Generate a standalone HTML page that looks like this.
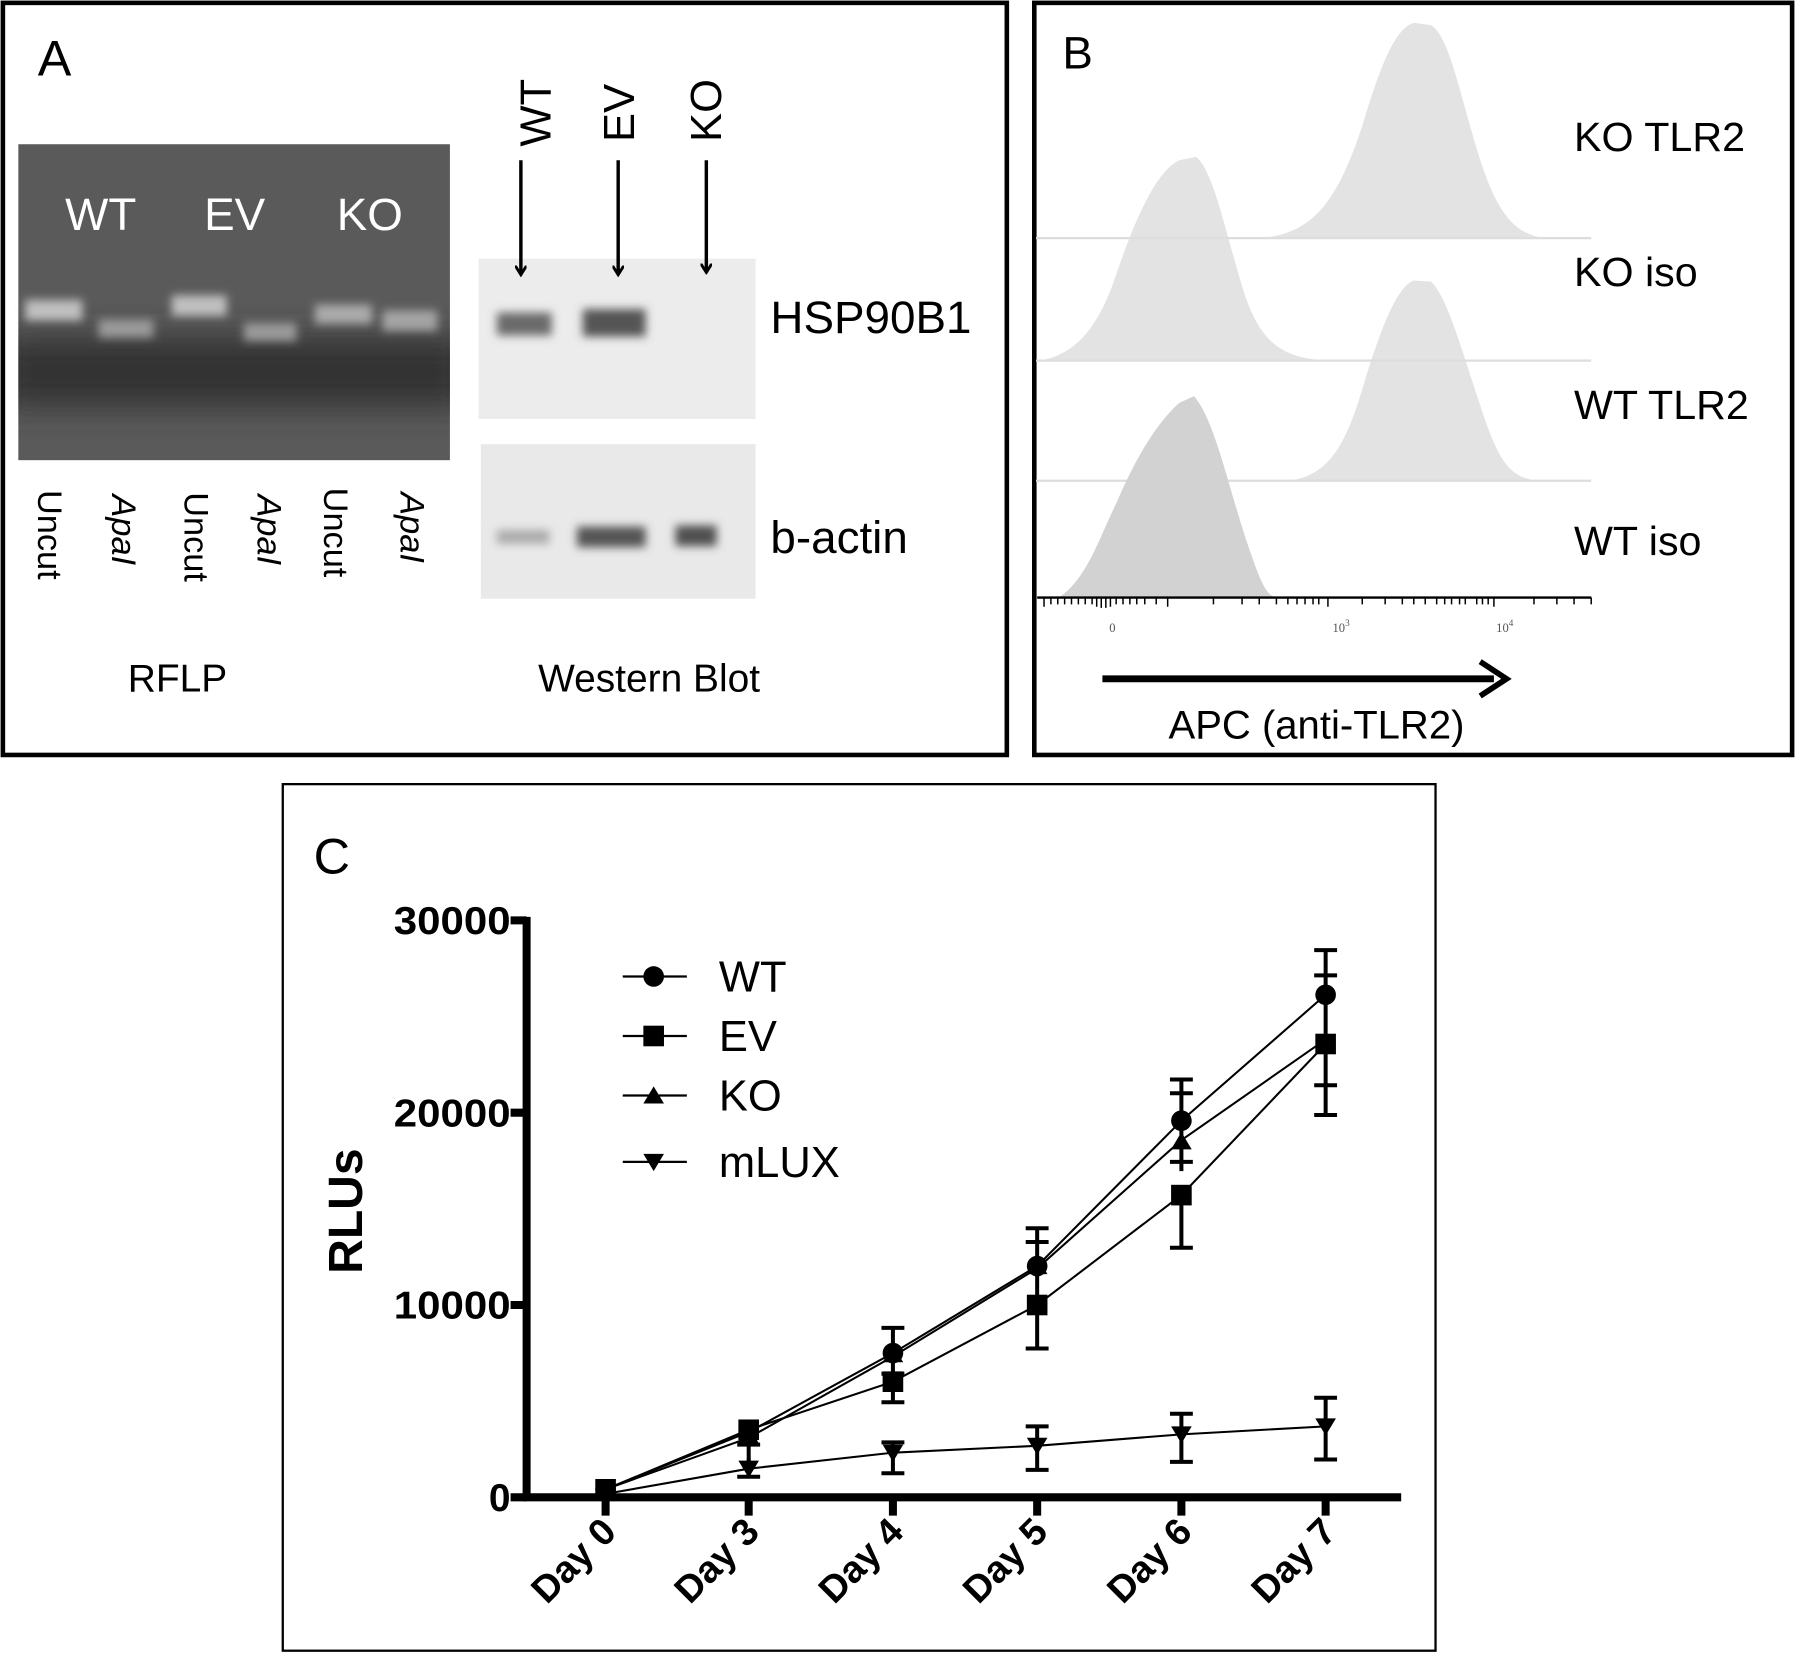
<!DOCTYPE html>
<html><head><meta charset="utf-8"><style>html,body{margin:0;padding:0;background:#fff}svg{display:block}</style></head>
<body>
<svg width="1795" height="1653" viewBox="0 0 1568 1444" xmlns="http://www.w3.org/2000/svg" font-family="Liberation Sans, sans-serif">
<defs>
<filter id="bl" x="-20%" y="-50%" width="140%" height="200%"><feGaussianBlur stdDeviation="4"/></filter>
<filter id="bl2" x="-20%" y="-80%" width="140%" height="260%"><feGaussianBlur stdDeviation="14"/></filter>
<clipPath id="gc"><rect x="16" y="126" width="377" height="276"/></clipPath>
<marker id="ah" markerWidth="10" markerHeight="10" refX="8" refY="5" orient="auto" markerUnits="userSpaceOnUse"><path d="M0,0 L8,5 L0,10" fill="none" stroke="#000" stroke-width="2.5"/></marker>
</defs>
<rect width="1568" height="1444" fill="#fff"/>
<!-- Panel A -->
<rect x="2.5" y="2.5" width="877" height="657" fill="none" stroke="#000" stroke-width="4"/>
<text x="33" y="66" font-size="44">A</text>
<rect x="16" y="126" width="377" height="276" fill="#5a5a5a"/>
<g clip-path="url(#gc)">
<rect x="0" y="295" width="410" height="60" fill="#333" filter="url(#bl2)"/>
</g>
<g fill="#c0c0c0" filter="url(#bl)">
<rect x="22" y="262" width="50" height="18"/><rect x="86" y="279" width="48" height="16" fill="#9a9a9a"/>
<rect x="150" y="258" width="48" height="18"/><rect x="213" y="282" width="46" height="16" fill="#9a9a9a"/>
<rect x="275" y="266" width="50" height="17" fill="#aaa"/><rect x="334" y="271" width="48" height="18" fill="#a4a4a4"/>
</g>
<g fill="#fff" font-size="40" text-anchor="middle"><text x="88" y="201">WT</text><text x="205" y="201">EV</text><text x="323" y="201">KO</text></g>
<g font-size="30">
<text transform="translate(33,428) rotate(90)">Uncut</text>
<text transform="translate(98,432) rotate(90)" font-style="italic">ApaI</text>
<text transform="translate(161,430) rotate(90)">Uncut</text>
<text transform="translate(225,432) rotate(90)" font-style="italic">ApaI</text>
<text transform="translate(283,426) rotate(90)">Uncut</text>
<text transform="translate(350,430) rotate(90)" font-style="italic">ApaI</text>
</g>
<text x="155" y="604" font-size="34" text-anchor="middle">RFLP</text>
<text x="567" y="604" font-size="34" text-anchor="middle">Western Blot</text>
<rect x="418" y="226" width="242" height="140" fill="#ececec"/>
<rect x="420" y="388" width="240" height="135" fill="#e9e9e9"/>
<g filter="url(#bl)">
<rect x="434" y="273" width="48" height="20" fill="#6a6a6a"/>
<rect x="509" y="270" width="55" height="24" fill="#555"/>
<rect x="434" y="463" width="46" height="12" fill="#aaa"/>
<rect x="504" y="460" width="60" height="18" fill="#555"/>
<rect x="590" y="459" width="36" height="18" fill="#505050"/>
</g>
<g font-size="38">
<text transform="translate(481,128) rotate(-90)">WT</text>
<text transform="translate(554,124) rotate(-90)">EV</text>
<text transform="translate(630,124) rotate(-90)">KO</text>
</g>
<g stroke="#000" stroke-width="3" marker-end="url(#ah)">
<line x1="455" y1="140" x2="455" y2="240"/><line x1="540" y1="140" x2="540" y2="240"/><line x1="617" y1="140" x2="617" y2="238"/>
</g>
<text x="673" y="291" font-size="40">HSP90B1</text>
<text x="673" y="483" font-size="40">b-actin</text>
<!-- Panel B -->
<rect x="903.5" y="2.5" width="662" height="657" fill="none" stroke="#000" stroke-width="4"/>
<text x="928" y="60" font-size="40">B</text>
<g fill="#e3e3e3">
<path d="M1100,208 C1150,205 1170,170 1190,110 C1205,60 1218,25 1235,20 L1250,22 C1265,30 1275,80 1290,130 C1305,180 1320,205 1350,208 Z"/>
<path d="M908,315 C940,310 960,285 975,240 C992,190 1010,150 1030,140 L1045,137 C1060,150 1070,200 1085,250 C1100,300 1120,313 1160,315 Z"/>
<path d="M1125,420 C1160,416 1175,390 1190,340 C1205,290 1220,250 1235,245 L1250,246 C1265,260 1278,310 1295,360 C1310,405 1320,418 1345,420 Z"/>
</g>
<line x1="905" y1="208" x2="1390" y2="208" stroke="#ddd" stroke-width="2"/>
<line x1="905" y1="315" x2="1390" y2="315" stroke="#ddd" stroke-width="2"/>
<line x1="905" y1="420" x2="1390" y2="420" stroke="#ddd" stroke-width="2"/>
<path d="M925,522 C950,505 960,470 975,440 C992,400 1010,370 1030,352 L1043,346 C1060,365 1072,420 1088,470 C1100,505 1105,520 1115,522 Z" fill="#d2d2d2"/>
<line x1="906" y1="522" x2="1390" y2="522" stroke="#000" stroke-width="2"/>
<g stroke="#000" stroke-width="1.3">
<path d="M912,522v8M918,522v6M924,522v6M930,522v6M936,522v6M942,522v6M948,522v6M954,522v6M958,522v8M962,522v9M966,522v9M970,522v8M975,522v6M981,522v6M987,522v6M993,522v6M1000,522v6M1010,522v6M1020,522v8M1060,522v6M1085,522v6M1100,522v6M1115,522v6M1125,522v6M1133,522v6M1140,522v6M1147,522v6M1152,522v6M1160,522v8M1190,522v6M1210,522v6M1225,522v6M1235,522v6M1245,522v6M1255,522v6M1262,522v6M1268,522v6M1275,522v6M1280,522v6M1290,522v6M1295,522v6M1300,522v6M1305,522v8M1340,522v6M1360,522v6M1375,522v6M1390,522v6"/>
</g>
<g font-size="11" fill="#555" font-family="Liberation Serif, serif"><text x="969" y="552">0</text><text x="1164" y="552">10<tspan dy="-5" font-size="8">3</tspan></text><text x="1307" y="552">10<tspan dy="-5" font-size="8">4</tspan></text></g>
<line x1="963" y1="593" x2="1305" y2="593" stroke="#000" stroke-width="6"/>
<path d="M1293,578 L1316,593 L1293,608" fill="none" stroke="#000" stroke-width="5"/>
<text x="1150" y="645" font-size="35" text-anchor="middle">APC (anti-TLR2)</text>
<g font-size="36"><text x="1375" y="132">KO TLR2</text><text x="1375" y="250">KO iso</text><text x="1375" y="366">WT TLR2</text><text x="1375" y="485">WT iso</text></g>
<!-- Panel C -->
<rect x="247" y="685" width="1007" height="757" fill="none" stroke="#000" stroke-width="2"/>
<text x="274" y="763" font-size="44">C</text>
<g stroke="#000" stroke-width="7">
<line x1="460" y1="801" x2="460" y2="1311"/><line x1="457" y1="1308" x2="1224" y2="1308"/>
<line x1="446" y1="804" x2="460" y2="804"/><line x1="446" y1="972" x2="460" y2="972"/><line x1="446" y1="1140" x2="460" y2="1140"/><line x1="446" y1="1308" x2="460" y2="1308"/>
<path d="M529,1308v16M654,1308v16M780,1308v16M906,1308v16M1032,1308v16M1158,1308v16"/>
</g>
<g font-size="34" font-weight="bold" text-anchor="end"><text x="446" y="816" textLength="102" lengthAdjust="spacingAndGlyphs">30000</text><text x="446" y="984" textLength="102" lengthAdjust="spacingAndGlyphs">20000</text><text x="446" y="1152" textLength="102" lengthAdjust="spacingAndGlyphs">10000</text><text x="446" y="1320">0</text></g>
<text transform="translate(316,1058) rotate(-90)" font-size="42" font-weight="bold" text-anchor="middle">RLUs</text>
<g font-size="33" font-weight="bold" text-anchor="end">
<text transform="translate(540,1340) rotate(-45)">Day 0</text>
<text transform="translate(665,1340) rotate(-45)">Day 3</text>
<text transform="translate(791,1340) rotate(-45)">Day 4</text>
<text transform="translate(917,1340) rotate(-45)">Day 5</text>
<text transform="translate(1043,1340) rotate(-45)">Day 6</text>
<text transform="translate(1169,1340) rotate(-45)">Day 7</text>
</g>
<!-- error bars -->
<g stroke="#000" stroke-width="3.5" fill="none">
<path d="M654,1262v28M644,1262h20M644,1290h20"/>
<path d="M780,1160v40M770,1160h20M770,1200h20M780,1173v52M770,1225h20"/>
<path d="M906,1073v72M896,1073h20M906,1140v38M896,1178h20M896,1085h20"/>
<path d="M1032,943v80M1022,943h20M1022,955h20M1032,1040v50M1022,1090h20M1022,1015h20"/>
<path d="M1158,830v145M1148,830h20M1148,852h20M1148,948h20M1148,974h20"/>
<path d="M654,1274v16M780,1260v27M770,1260h20M770,1287h20M906,1246v38M896,1246h20M896,1284h20M1032,1235v42M1022,1235h20M1022,1277h20M1158,1221v54M1148,1221h20M1148,1275h20"/>
</g>
<g stroke="#000" stroke-width="1.8" fill="none">
<polyline points="529,1301 654,1251 780,1182 906,1106 1032,979 1158,869"/>
<polyline points="529,1301 654,1249 780,1207 906,1140 1032,1044 1158,912"/>
<polyline points="529,1301 654,1256 780,1185 906,1108 1032,996 1158,908"/>
<polyline points="529,1305 654,1283 780,1269 906,1263 1032,1253 1158,1246"/>
</g>
<g fill="#000">
<circle cx="529" cy="1301" r="9"/><circle cx="654" cy="1251" r="9"/><circle cx="780" cy="1182" r="9"/><circle cx="906" cy="1106" r="9"/><circle cx="1032" cy="979" r="9"/><circle cx="1158" cy="869" r="9"/>
<rect x="520" y="1292" width="18" height="18"/><rect x="645" y="1240" width="18" height="18"/><rect x="771" y="1198" width="18" height="18"/><rect x="897" y="1131" width="18" height="18"/><rect x="1023" y="1035" width="18" height="18"/><rect x="1149" y="903" width="18" height="18"/>
<path d="M654,1246l9,15h-18zM780,1175l9,15h-18zM906,1098l9,15h-18zM1032,989l9,15h-18zM1158,901l9,15h-18z"/>
<path d="M654,1291l9,-15h-18zM780,1277l9,-15h-18zM906,1271l9,-15h-18zM1032,1261l9,-15h-18zM1158,1254l9,-15h-18z"/>
</g>
<g stroke="#000" stroke-width="2"><line x1="544" y1="853" x2="600" y2="853"/><line x1="544" y1="905" x2="600" y2="905"/><line x1="544" y1="957" x2="600" y2="957"/><line x1="544" y1="1015" x2="600" y2="1015"/></g>
<g fill="#000"><circle cx="571" cy="853" r="9"/><rect x="562" y="896" width="18" height="18"/><path d="M571,949l9,15h-18z"/><path d="M571,1023l9,-15h-18z"/></g>
<g font-size="38"><text x="628" y="866">WT</text><text x="628" y="918">EV</text><text x="628" y="970">KO</text><text x="628" y="1028">mLUX</text></g>
</svg>
</body></html>
